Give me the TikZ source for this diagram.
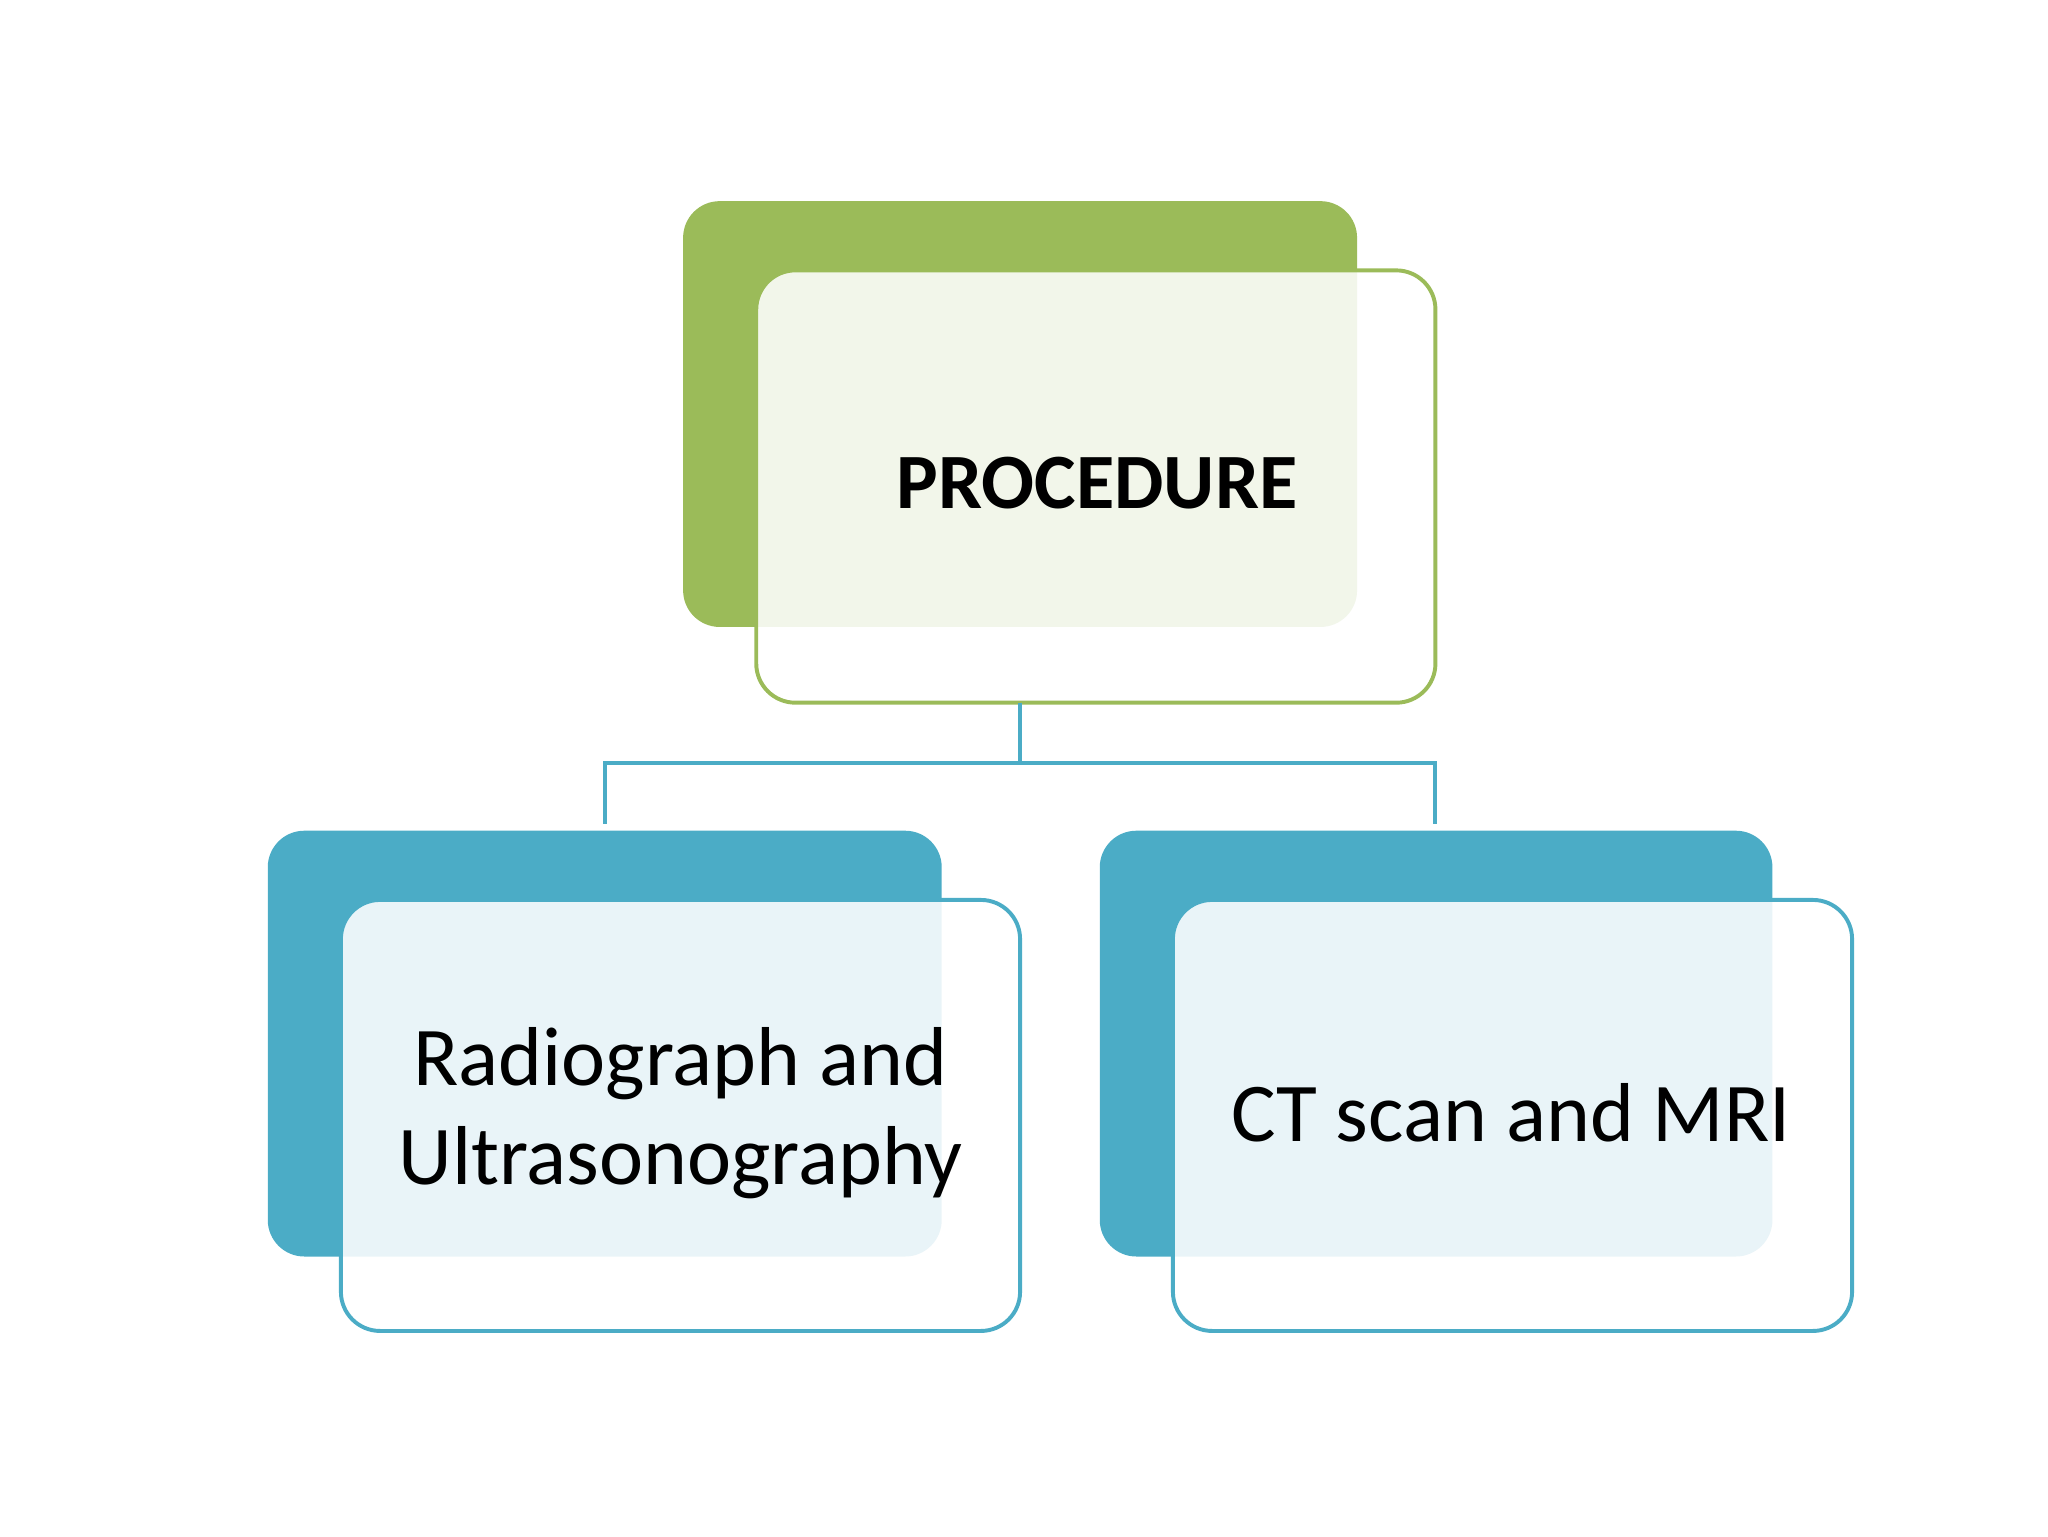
\documentclass[tikz,border=0pt]{standalone}
\usepackage{fontspec}
\setmainfont{Carlito}
\definecolor{grn}{HTML}{9BBB59}
\definecolor{blu}{HTML}{4BACC6}
\begin{document}
\begin{tikzpicture}[x=1pt,y=-1pt,
  back/.style={rounded corners=28pt},
  front/.style={rounded corners=30pt,line width=3pt,fill=white,fill opacity=0.88,text opacity=1},
  conn/.style={blu,line width=3pt}]
\useasboundingbox (0,0) rectangle (1568,1176);
\fill[back,grn] (523,154) rectangle (1039,480);
\draw[front,draw=grn] (579,207) rectangle (1099,538);
\node[font=\bfseries\fontsize{60}{66}\selectfont] (p) at (840,370) {PROCEDURE};
\coordinate (pb) at (781,538);
\fill[back,blu] (205,636) rectangle (721,962);
\draw[front,draw=blu] (261,689) rectangle (781,1019);
\node[align=center,font=\fontsize{64}{76}\selectfont] (r) at (521,852) {Radiograph and\\Ultrasonography};
\fill[back,blu] (842,636) rectangle (1357,962);
\draw[front,draw=blu] (898,689) rectangle (1418,1019);
\node[font=\fontsize{64}{76}\selectfont] (c) at (1157,852) {CT scan and MRI};
\coordinate (lt) at (463,631);
\coordinate (rt) at (1099,631);
\draw[conn] (pb) -- (781,584) -| (lt);
\draw[conn] (781,584) -| (rt);
\end{tikzpicture}
\end{document}
